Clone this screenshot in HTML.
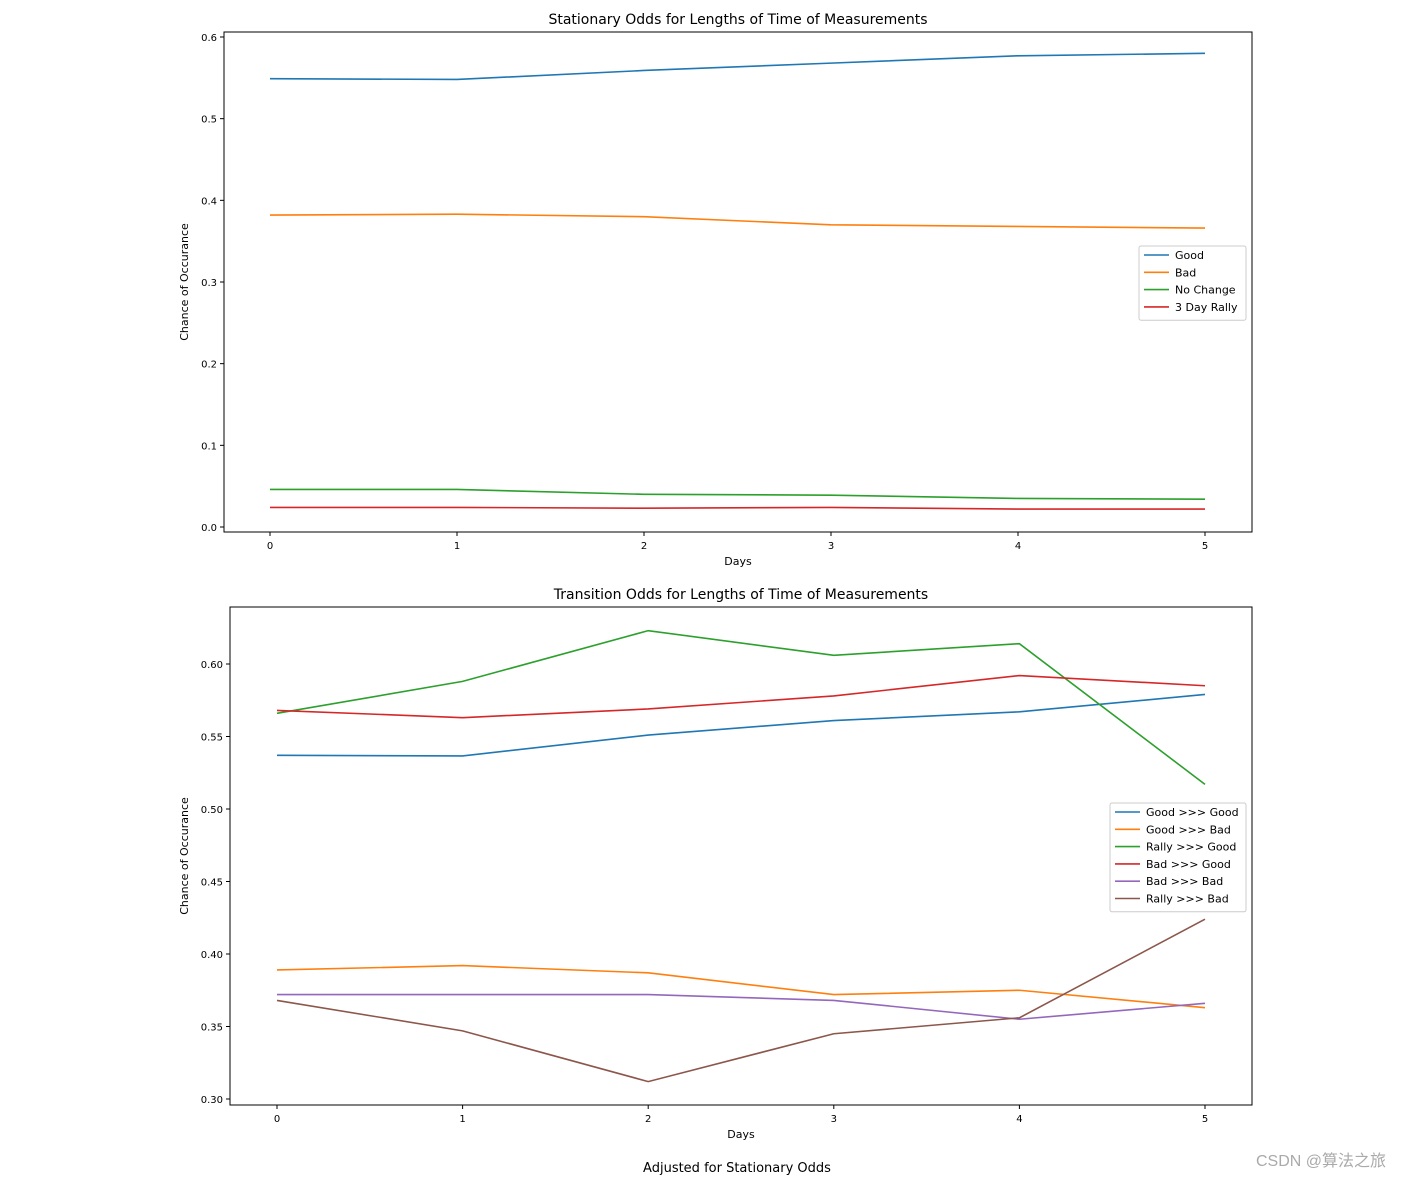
<!DOCTYPE html>
<html><head><meta charset="utf-8"><style>
body{margin:0;background:#fff;width:1402px;height:1178px;overflow:hidden;font-family:"DejaVu Sans","Noto Sans CJK SC",sans-serif}
svg text{font-family:"DejaVu Sans","Noto Sans CJK SC",sans-serif;fill:#000}
</style></head><body>
<svg id="s" width="1402" height="1178">
<text x="737" y="1172" font-size="13" text-anchor="middle">Adjusted for Stationary Odds</text>
<text x="1386" y="1166" font-size="16" text-anchor="end" style="fill:#aaa;font-family:'Liberation Sans','Noto Sans CJK SC',sans-serif">CSDN @算法之旅</text>
</svg>
<script>
const days=[0,1,2,3,4,5];
const topNames=["Good","Bad","No Change","3 Day Rally"];
const topGood=[0.549,0.548,0.559,0.568,0.577,0.580];
const topBad=[0.382,0.383,0.380,0.370,0.368,0.366];
const topNoChange=[0.046,0.046,0.040,0.039,0.035,0.034];
const topRally=[0.024,0.024,0.023,0.024,0.022,0.022];
const topTicks=[0.0,0.1,0.2,0.3,0.4,0.5,0.6];
const botNames=["Good >>> Good","Good >>> Bad","Rally >>> Good","Bad >>> Good","Bad >>> Bad","Rally >>> Bad"];
const gg=[0.537,0.5366,0.551,0.561,0.567,0.579];
const gb=[0.389,0.392,0.387,0.372,0.375,0.363];
const rg=[0.566,0.588,0.623,0.606,0.614,0.517];
const bg=[0.568,0.563,0.569,0.578,0.592,0.585];
const bb=[0.372,0.372,0.372,0.368,0.355,0.366];
const rb=[0.368,0.347,0.312,0.345,0.356,0.424];
const botTicks=[0.30,0.35,0.40,0.45,0.50,0.55,0.60];
const colors=["#1f77b4","#ff7f0e","#2ca02c","#d62728","#9467bd","#8c564b"];
const svg=document.getElementById('s');const NS="http://www.w3.org/2000/svg";
function el(t,a,p){const e=document.createElementNS(NS,t);for(const k in a)e.setAttribute(k,a[k]);(p||svg).appendChild(e);return e;}
function chart(o){
 const g=el('g',{});
 
 
 const xs=d=>o.x0+(d-days[0])/(days[5]-days[0])*(o.x1-o.x0);
 const ys=v=>o.y0+(v-o.v0)/(o.v1-o.v0)*(o.y1-o.y0);
 o.series.forEach((s,i)=>{
  const p=el('polyline',{points:s.map((v,j)=>xs(days[j])+','+ys(v)).join(' '),fill:'none',stroke:colors[i],'stroke-width':1.6},g);
  
  
 });
 const r=el('rect',{x:o.L,y:o.T,width:o.R-o.L,height:o.B-o.T,fill:'none',stroke:'#000','stroke-width':1},g);
 
 
 days.forEach(d=>{
  el('line',{x1:xs(d),x2:xs(d),y1:o.B,y2:o.B+4,stroke:'#000'},g);
  const t=el('text',{x:xs(d),y:o.B+17,'font-size':10,'text-anchor':'middle'},g);t.textContent=d;
  
  
 });
 o.ticks.forEach(v=>{
  el('line',{x1:o.L-4,x2:o.L,y1:ys(v),y2:ys(v),stroke:'#000'},g);
  const t=el('text',{x:o.L-7,y:ys(v)+4,'font-size':10,'text-anchor':'end'},g);t.textContent=v.toFixed(o.dec);
  
  
 });
 let t=el('text',{x:(o.L+o.R)/2,y:o.T-8,'font-size':14,'text-anchor':'middle'},g);t.textContent=o.title;
 
 
 t=el('text',{x:(o.L+o.R)/2,y:o.B+33,'font-size':11,'text-anchor':'middle'},g);t.textContent='Days';
 
 
 const cy=(o.T+o.B)/2;
 t=el('text',{x:o.yl,y:cy,'font-size':11,'text-anchor':'middle',transform:`rotate(-90 ${o.yl} ${cy})`},g);t.textContent='Chance of Occurance';
 
 
 const lg=el('g',{},g);
 
 
 el('rect',{x:o.lx,y:o.ly,width:o.lw,height:o.names.length*17.3+5,fill:'#fff',stroke:'#ccc',rx:2},lg);
 o.names.forEach((n,i)=>{
  const yy=o.ly+9+i*17.3;
  el('line',{x1:o.lx+5,x2:o.lx+30,y1:yy,y2:yy,stroke:colors[i],'stroke-width':1.6},lg);
  const tt=el('text',{x:o.lx+36,y:yy+4,'font-size':11},lg);tt.textContent=n;
  
  
 });
}
chart({name:'stationary-odds-chart',L:224,R:1252,T:32,B:532,x0:270,x1:1205,y0:527,y1:37,v0:0,v1:0.6,ticks:topTicks,dec:1,
 series:[topGood,topBad,topNoChange,topRally],names:topNames,title:'Stationary Odds for Lengths of Time of Measurements',yl:188,lx:1139,ly:246,lw:107});
chart({name:'transition-odds-chart',L:230,R:1252,T:607,B:1105,x0:277,x1:1205,y0:1099,y1:664,v0:0.30,v1:0.60,ticks:botTicks,dec:2,
 series:[gg,gb,rg,bg,bb,rb],names:botNames,title:'Transition Odds for Lengths of Time of Measurements',yl:188,lx:1110,ly:803,lw:136});
</script>
</body></html>
